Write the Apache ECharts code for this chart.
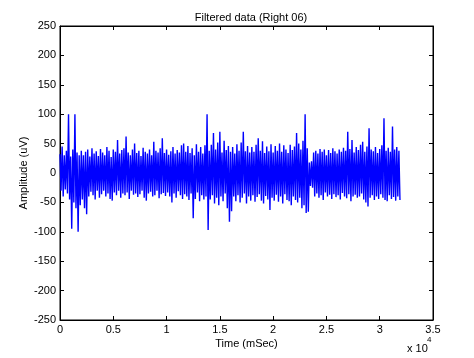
<!DOCTYPE html>
<html><head><meta charset="utf-8">
<script src="https://cdn.jsdelivr.net/npm/echarts@6/dist/echarts.min.js"></script>
<style>html,body{margin:0;padding:0;background:#fff}#c{width:474px;height:358px}</style>
</head><body><div id="c"></div>
<script>
const chartTitle = 'Filtered data (Right 06)';
const xName = 'Time (mSec)';
const yName = 'Amplitude (uV)';
const xTickStep = 5000;   // tick labels shown as value / 1e4
const yTickStep = 50;
const sampleStep = 200;   // ms between envelope readings
// positive excursions (uV)
const upper = [
 32,45,30,38,100,28,40,100,35,30,
 38,30,36,40,28,42,33,37,29,41,
 35,30,44,38,27,40,36,56,33,39,
 42,62,35,30,40,50,34,38,29,43,
 36,33,40,30,53,38,35,42,59,34,
 40,31,37,44,33,39,35,47,50,36,
 46,34,42,30,49,36,44,33,47,100,
 38,48,68,40,52,70,35,55,39,46,
 36,44,33,49,38,52,70,37,46,35,
 44,36,48,59,38,54,34,45,37,49,
 35,46,38,50,36,47,40,34,48,39,
 45,68,50,40,55,100,42,18,20,35,
 38,33,41,36,40,30,39,34,42,37,
 33,40,36,43,38,70,41,56,35,44,
 39,48,53,36,45,76,40,37,44,34,
 41,47,93,38,43,36,79,40,44,38
];
// negative excursions (uV)
const lower = [
 -30,-40,-28,-35,-45,-95,-50,-60,-100,-55,
 -45,-60,-70,-40,-32,-38,-45,-30,-42,-36,
 -30,-40,-35,-44,-47,-33,-38,-30,-42,-35,
 -38,-33,-44,-30,-37,-35,-41,-36,-30,-42,
 -47,-35,-32,-40,-38,-30,-43,-36,-34,-39,
 -33,-40,-50,-35,-42,-31,-38,-44,-36,-40,
 -46,-35,-77,-44,-33,-48,-38,-45,-40,-97,
 -45,-38,-52,-42,-55,-40,-48,-35,-60,-83,
 -65,-40,-48,-38,-50,-42,-35,-52,-40,-47,
 -38,-49,-41,-36,-47,-52,-39,-45,-63,-42,
 -47,-37,-49,-40,-52,-36,-46,-48,-55,-40,
 -46,-50,-42,-60,-55,-68,-66,-22,-25,-40,
 -35,-42,-38,-46,-33,-40,-37,-44,-36,-41,
 -38,-45,-34,-40,-43,-36,-48,-40,-37,-42,
 -40,-35,-45,-50,-57,-42,-38,-46,-40,-44,
 -36,-42,-46,-48,-38,-44,-41,-47,-40,-46
];

const data = [];
upper.forEach((u, i) => {
  data.push([i * sampleStep, u]);
  data.push([i * sampleStep + sampleStep / 2, lower[i]]);
});

const font = 'Liberation Sans, Arial, sans-serif';
const txt = { color: '#000', fontSize: 11, fontFamily: font };
const axBase = {
  type: 'value',
  axisLine: { show: true, onZero: false, lineStyle: { color: '#000', width: 1 } },
  axisTick: { show: true, inside: true, length: 4, lineStyle: { color: '#000' } },
  splitLine: { show: false }
};

const chart = echarts.init(document.getElementById('c'), null, { renderer: 'canvas' });
chart.setOption({
  animation: false,
  backgroundColor: '#fff',
  title: { text: chartTitle, left: 246, top: 7, textAlign: 'center',
    textStyle: { ...txt, fontWeight: 'normal' } },
  grid: { left: 60, right: 41, top: 26, bottom: 38, show: true, borderColor: '#000', borderWidth: 1, backgroundColor: '#fff' },
  xAxis: [
    { ...axBase, position: 'bottom', min: 0, max: 35000, interval: xTickStep,
      axisLabel: { ...txt, margin: 4, formatter: v => String(v / 10000) },
      name: xName, nameLocation: 'middle', nameGap: 18, nameMoveOverlap: false, nameTextStyle: txt },
    { ...axBase, position: 'top', min: 0, max: 35000, interval: xTickStep, axisLabel: { show: false } }
  ],
  yAxis: [
    { ...axBase, position: 'left', min: -250, max: 250, interval: yTickStep,
      axisLabel: { ...txt, margin: 4 },
      name: yName, nameLocation: 'middle', nameGap: 31, nameMoveOverlap: false, nameTextStyle: txt },
    { ...axBase, position: 'right', min: -250, max: 250, interval: yTickStep, axisLabel: { show: false } }
  ],
  graphic: [
    { type: 'text', left: 407, top: 343, style: { text: 'x 10', fill: '#000', font: '11px ' + font } },
    { type: 'text', left: 427, top: 336, style: { text: '4', fill: '#000', font: '8px ' + font } }
  ],
  series: [{
    type: 'line', data: data, symbol: 'none',
    lineStyle: { color: '#0000ff', width: 1.4 }, silent: true
  }]
});
</script></body></html>
